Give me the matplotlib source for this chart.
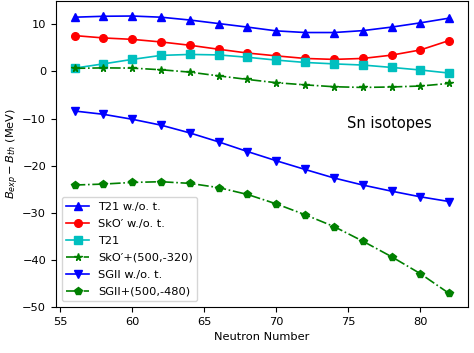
import numpy as np
import matplotlib
matplotlib.use("Agg")
import matplotlib.pyplot as plt

# neutron numbers for the Sn isotopes
neutron = [56, 58, 60, 62, 64, 66, 68, 70, 72, 74, 76, 78, 80, 82]

t21_wo = [11.5, 11.7, 11.75, 11.5, 10.9, 10.15, 9.4, 8.6, 8.25, 8.25, 8.65, 9.4, 10.3, 11.3]
sko_wo = [7.6, 7.1, 6.8, 6.25, 5.55, 4.7, 3.9, 3.3, 2.75, 2.55, 2.75, 3.45, 4.55, 6.55]
t21 = [0.7, 1.6, 2.55, 3.4, 3.6, 3.5, 3.0, 2.4, 1.9, 1.6, 1.35, 0.85, 0.3, -0.35]
sko_500 = [0.65, 0.75, 0.7, 0.35, -0.15, -0.95, -1.7, -2.4, -2.85, -3.25, -3.4, -3.3, -3.1, -2.55]
sgii_wo = [-8.4, -9.1, -10.15, -11.4, -13.05, -14.95, -17.0, -18.95, -20.8, -22.6, -24.1, -25.4, -26.6, -27.6]
sgii_500 = [-24.1, -23.9, -23.55, -23.4, -23.75, -24.65, -26.1, -28.1, -30.4, -32.9, -36.0, -39.3, -42.9, -47.1]

plt.rcParams['font.size'] = 8.2

plt.figure(figsize=(4.74, 3.53), dpi=100)
ms, lw = 5.5, 1.2
plt.plot(neutron, t21_wo, 'b-^', ms=ms, lw=lw, label="T21 w./o. t.")
plt.plot(neutron, sko_wo, 'r-o', ms=ms, lw=lw, label="SkO\u2032 w./o. t.")
plt.plot(neutron, t21, 'c-s', ms=ms, lw=lw, label="T21")
plt.plot(neutron, sko_500, 'g-.*', ms=ms, lw=lw, label="SkO\u2032+(500,-320)")
plt.plot(neutron, sgii_wo, 'b-v', ms=ms, lw=lw, label="SGII w./o. t.")
plt.plot(neutron, sgii_500, 'g-.p', ms=ms, lw=lw, label="SGII+(500,-480)")

plt.text(74.9, -11.1, "Sn isotopes", ha='left', va='center', fontsize=10.5)
plt.xlabel("Neutron Number")
plt.ylabel(r"$B_{exp} - B_{th}$ (MeV)", labelpad=1)
plt.ylim(-50, 15)
plt.xticks([55, 60, 65, 70, 75, 80])
plt.yticks([10, 0, -10, -20, -30, -40, -50])
plt.legend(loc='lower left', fontsize=8.2, labelspacing=0.62)
plt.subplots_adjust(left=0.118, right=0.987, bottom=0.13, top=0.998)
plt.savefig("out.png", dpi=100)
